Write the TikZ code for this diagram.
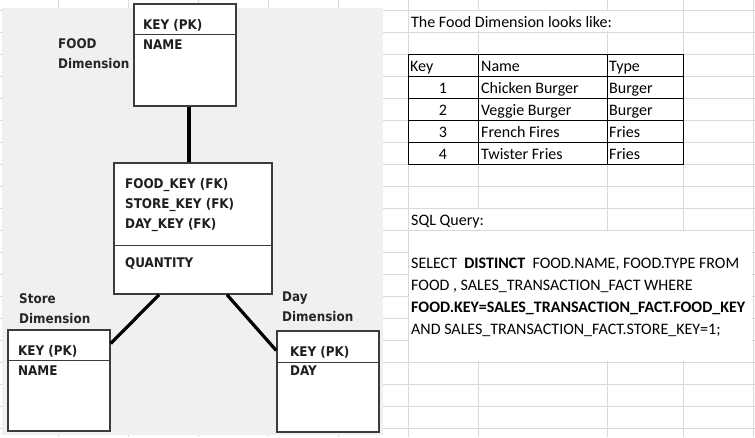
\documentclass[tikz,border=0pt]{standalone}
\usepackage{fontspec}
\setmainfont{Carlito}
\newfontfamily\diafont{DejaVu Sans Condensed}
\usetikzlibrary{positioning}

\definecolor{gridgray}{HTML}{D9D9D9}
\definecolor{panelgray}{HTML}{F0F0F0}
\definecolor{boxgray}{HTML}{3C3C3C}

\begin{document}
\begin{tikzpicture}[x=1pt,y=-1pt,
	entity/.style={draw=boxgray,line width=1.5pt,fill=white,inner sep=0pt,minimum width=102pt},
	divider/.style={boxgray,line width=1.5pt},
	field/.style={anchor=west,inner sep=0pt,text height=9.7pt,text depth=0pt,text=black!88,
		font=\diafont\bfseries\fontsize{13.3}{20}\selectfont},
	dimlabel/.style={anchor=north west,align=left,inner sep=0pt,text=black!85,
		font=\diafont\bfseries\fontsize{13.3}{20}\selectfont},
	cell/.style={anchor=west,inner sep=0pt,text height=10.3pt,text depth=0pt,
		font=\fontsize{16}{22}\selectfont},
	link/.style={line width=3.2pt},
	gridline/.style={gridgray,line width=1pt}]
	\useasboundingbox (0,0) rectangle (755,437);
	\fill[white] (0,0) rectangle (755,437);
	
	% sheet grid
	\foreach \r in {0,...,19}
		\draw[gridline] (0,{10+22*\r}) -- (755,{10+22*\r});
	\foreach \c in {58,128,198,268,338,408,478,607,683,753}
		\draw[gridline] (\c,0) -- (\c,437);
	\fill[white] (409,11) rectangle (682,31);
	\fill[white] (409,209) rectangle (606,229);
	\fill[white] (409,231) rectangle (752,361);
	
	% star schema panel
	\fill[panelgray] (2,8) rectangle (383,435);
	
	\node[entity,minimum height=102pt](food) at (185,55) {};
	\node[entity,minimum width=158pt,minimum height=131pt](fact) at (193,228.5) {};
	\node[entity,minimum height=101pt](store) at (59,380.5) {};
	\node[entity,minimum height=101pt](day) at (328,381.5) {};
	
	\draw[divider] ([yshift=-31pt]food.north west) -- ([yshift=-31pt]food.north east);
	\draw[divider] ([yshift=-83pt]fact.north west) -- ([yshift=-83pt]fact.north east);
	\draw[divider] ([yshift=-31pt]store.north west) -- ([yshift=-31pt]store.north east);
	\draw[divider] ([yshift=-32pt]day.north west) -- ([yshift=-32pt]day.north east);
	
	\draw[link] ([xshift=4pt]food.south) -- ([xshift=-4pt]fact.north);
	\draw[link] ([xshift=-34pt]fact.south) -- ([yshift=37pt]store.east);
	\draw[link] ([xshift=34pt]fact.south) -- ([yshift=31pt]day.west);
	
	\node[dimlabel](foodlbl) at (58,38.1) {FOOD\\Dimension};
	\node[dimlabel](storelbl) at (19,293.1) {Store\\Dimension};
	\node[dimlabel](daylbl) at (282,291.1) {Day\\Dimension};
	
	\node[field](foodkey) at (143,25) {KEY (PK)};
	\node[field](foodname) at (143,45) {NAME};
	\node[field](factfood) at (125,184) {FOOD\_KEY (FK)};
	\node[field](factstore) at (125,204) {STORE\_KEY (FK)};
	\node[field](factday) at (125,224) {DAY\_KEY (FK)};
	\node[field](factqty) at (125,263) {QUANTITY};
	\node[field](storekey) at (18,351) {KEY (PK)};
	\node[field](storename) at (18,371) {NAME};
	\node[field](daykey) at (290,352) {KEY (PK)};
	\node[field](dayday) at (290,371) {DAY};
	
	% sheet cells
	\node[cell](title) at (411,22) {The Food Dimension looks like:};
	\draw[line width=1pt] (408,54) rectangle (683,164);
	\foreach \r in {76,98,120,142}
		\draw[line width=1pt] (408,\r) -- (683,\r);
	\foreach \c in {478,607}
		\draw[line width=1pt] (\c,54) -- (\c,164);
	\node[cell](hkey) at (410,66) {Key};
	\node[cell](hname) at (481,66) {Name};
	\node[cell](htype) at (609,66) {Type};
	\foreach \k/\n/\t [count=\i] in {1/Chicken Burger/Burger,2/Veggie Burger/Burger,
		3/French Fires/Fries,4/Twister Fries/Fries}{
		\node[cell,anchor=center](key\i) at (443,{66+22*\i}) {\k};
		\node[cell](name\i) at (481,{66+22*\i}) {\n};
		\node[cell](type\i) at (609,{66+22*\i}) {\t};
	}
	\node[cell](sqlhead) at (411,220) {SQL Query:};
	\node[cell,anchor=north west,align=left,text height=,text depth=](sql) at (411,257.9)
		{SELECT ~\textbf{DISTINCT} ~FOOD.NAME, FOOD.TYPE FROM\\
		FOOD , SALES\_TRANSACTION\_FACT WHERE\\
		\textbf{FOOD.KEY=SALES\_TRANSACTION\_FACT.FOOD\_KEY}\\
		AND SALES\_TRANSACTION\_FACT.STORE\_KEY=1;};
\end{tikzpicture}
\end{document}
